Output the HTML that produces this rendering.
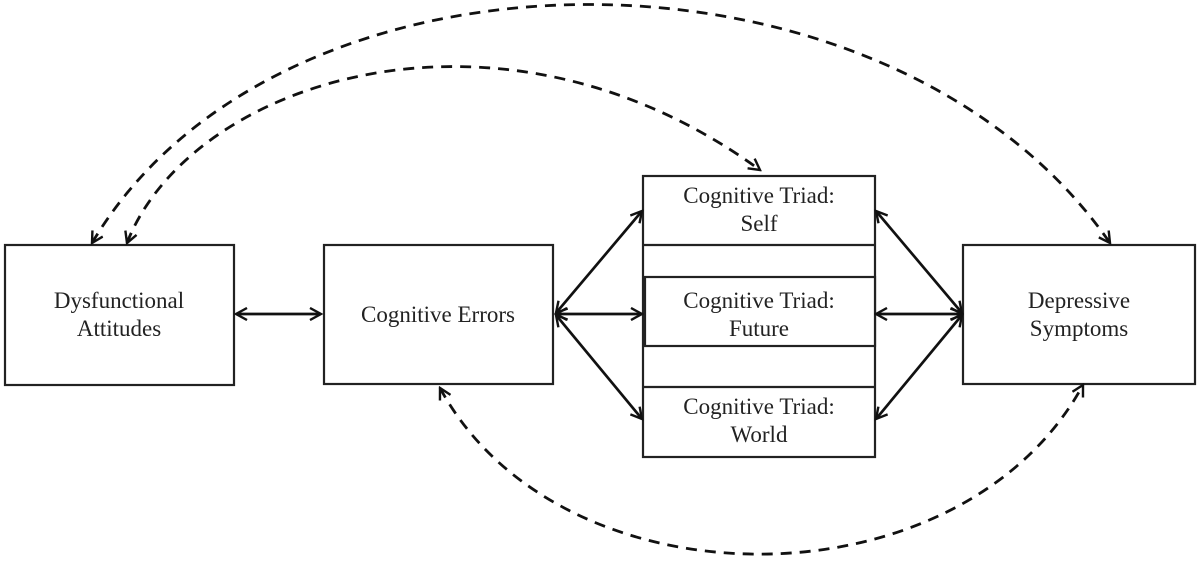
<!DOCTYPE html>
<html><head><meta charset="utf-8"><style>
html,body{margin:0;padding:0;background:#fff;}
svg{display:block;}
text{font-family:"Liberation Serif","DejaVu Serif",serif;font-size:23px;fill:#222;text-anchor:middle;}
</style></head><body>
<svg width="1200" height="566" viewBox="0 0 1200 566" xmlns="http://www.w3.org/2000/svg">
<defs>
<marker id="a" markerWidth="14" markerHeight="14" refX="12" refY="7" orient="auto-start-reverse" markerUnits="userSpaceOnUse">
<path d="M1,1 L12,7 L1,13" fill="none" stroke="#111" stroke-width="2.4"/>
</marker>
</defs>
<g fill="#fff" stroke="#222" stroke-width="2.2">
<rect x="5" y="245" width="229" height="140"/>
<rect x="324" y="245" width="229" height="139"/>
<rect x="963" y="245" width="232" height="139"/>
<rect x="643" y="176" width="232" height="281"/>
<line x1="643" y1="245" x2="875" y2="245"/>
<rect x="645" y="277" width="230" height="69"/>
<line x1="643" y1="387" x2="875" y2="387"/>
</g>
<text x="119" y="308">Dysfunctional</text>
<text x="119" y="336">Attitudes</text>
<text x="438" y="322">Cognitive Errors</text>
<text x="759" y="203">Cognitive Triad:</text>
<text x="759" y="231">Self</text>
<text x="759" y="308">Cognitive Triad:</text>
<text x="759" y="336">Future</text>
<text x="759" y="414">Cognitive Triad:</text>
<text x="759" y="442">World</text>
<text x="1079" y="308">Depressive</text>
<text x="1079" y="336">Symptoms</text>
<g stroke="#111" stroke-width="2.7" fill="none" marker-start="url(#a)" marker-end="url(#a)">
<line x1="236" y1="314" x2="321" y2="314"/>
<line x1="556" y1="313" x2="642" y2="211"/>
<line x1="556" y1="314" x2="642" y2="314"/>
<line x1="556" y1="315" x2="642" y2="419"/>
<line x1="876" y1="211" x2="962" y2="313"/>
<line x1="876" y1="314" x2="962" y2="314"/>
<line x1="876" y1="419" x2="962" y2="315"/>
</g>
<g stroke="#111" stroke-width="2.8" fill="none" stroke-dasharray="11,8" marker-start="url(#a)" marker-end="url(#a)">
<path d="M92,243 C280,-75 890,-75 1110,243"/>
<path d="M127,243 C190,80 500,-20 760,170"/>
<path d="M440,388 C560,610 960,610 1083,385"/>
</g>
</svg>
</body></html>
